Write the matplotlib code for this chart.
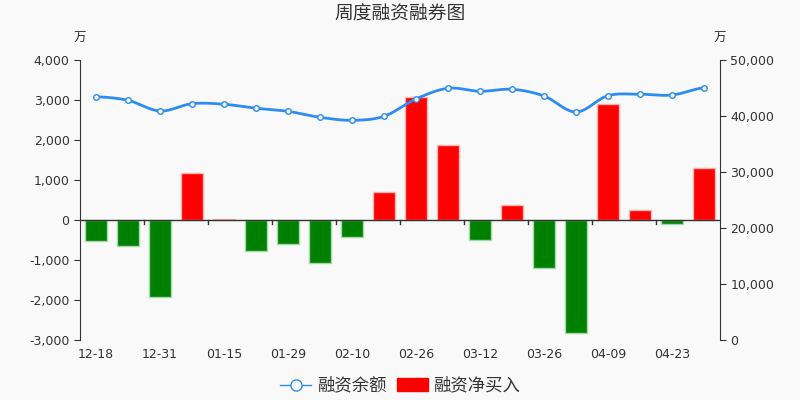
import matplotlib.pyplot as plt
import numpy as np
from matplotlib.ticker import FuncFormatter
from matplotlib.lines import Line2D
from matplotlib.patches import Patch

plt.rcParams['font.family'] = ['Noto Sans CJK SC', 'DejaVu Sans']

dates = ['12-18', '12-24', '12-31', '01-08', '01-15', '01-22', '01-29', '02-05',
         '02-10', '02-19', '02-26', '03-05', '03-12', '03-19', '03-26', '04-02',
         '04-09', '04-16', '04-23', '04-30']
net_buy = [-530, -650, -1917, 1167, 33, -767, -600, -1075, -425, 692,
           3083, 1867, -508, 367, -1208, -2833, 2892, 250, -92, 1292]
balance = [43450, 42800, 40890, 42200, 42100, 41380, 40830, 39770, 39230, 39950,
           43040, 44950, 44410, 44770, 43570, 40710, 43630, 43880, 43750, 45050]

bg = '#f9f9f9'
fig = plt.figure(figsize=(8, 4), dpi=100, facecolor=bg)
ax = fig.add_axes([0.1, 0.15, 0.8, 0.7], facecolor=bg)
ax2 = ax.twinx()

x = np.arange(len(dates))
colors = ['#ff0000' if v >= 0 else '#008000' for v in net_buy]
edges = ['#ffb3b3' if v >= 0 else '#a6d8a6' for v in net_buy]
ax.bar(x, net_buy, width=0.7, color=colors, edgecolor=edges, linewidth=1, zorder=2)
ax.axhline(0, color='#333333', linewidth=1, zorder=3)

# smooth line through points (catmull-rom)
def smooth(xs, ys, n=20):
    px = np.concatenate([[2 * xs[0] - xs[1]], xs, [2 * xs[-1] - xs[-2]]])
    py = np.concatenate([[ys[0]], ys, [ys[-1]]])
    ox, oy = [], []
    t = np.linspace(0, 1, n, endpoint=False)
    for i in range(1, len(px) - 2):
        for arr, out in ((px, ox), (py, oy)):
            p0, p1, p2, p3 = arr[i - 1], arr[i], arr[i + 1], arr[i + 2]
            out.extend(0.5 * (2 * p1 + (-p0 + p2) * t + (2 * p0 - 5 * p1 + 4 * p2 - p3) * t ** 2
                              + (-p0 + 3 * p1 - 3 * p2 + p3) * t ** 3))
    ox.append(xs[-1]); oy.append(ys[-1])
    return np.array(ox), np.array(oy)

sx, sy = smooth(x.astype(float), np.array(balance, dtype=float))
ax2.plot(sx, sy, color='#2d8cf0', linewidth=2, zorder=4)
ax2.plot(x, balance, linestyle='none', marker='o', markersize=4,
         markerfacecolor='white', markeredgecolor='#2d8cf0', markeredgewidth=1, zorder=5)

ax.set_xlim(-0.5, len(dates) - 0.5)
ax.set_ylim(-3000, 4000)
ax2.set_ylim(0, 50000)
ax.set_yticks(np.arange(-3000, 4001, 1000))
ax2.set_yticks(np.arange(0, 50001, 10000))
fmt = FuncFormatter(lambda v, p: f'{int(v):,}')
ax.yaxis.set_major_formatter(fmt)
ax2.yaxis.set_major_formatter(fmt)

ax.set_xticks(x[::2])
ax.set_xticklabels(dates[::2])
ax.tick_params(axis='x', which='major', length=0, labelsize=9, colors='#333333', pad=6)
ax.tick_params(axis='y', labelsize=9, colors='#333333', length=4)
ax2.tick_params(axis='y', labelsize=9, colors='#333333', length=4)
for lab in ax.get_xticklabels() + ax.get_yticklabels() + ax2.get_yticklabels():
    lab.set_fontfamily('DejaVu Sans')

for a in (ax, ax2):
    a.spines['top'].set_visible(False)
    a.spines['bottom'].set_visible(False)
ax.spines['left'].set_color('#333333')
ax.spines['right'].set_visible(False)
ax2.spines['left'].set_visible(False)
ax2.spines['right'].set_color('#333333')
# tick marks between category pairs, hanging from the zero line
for xv in np.arange(1.5, len(dates) - 1, 2):
    ax.plot([xv, xv], [0, -110], color='#333333', linewidth=1, zorder=3)

fig.text(0.5, 0.965, '周度融资融券图', ha='center', va='center', fontsize=13.5, color='#333333')
fig.text(0.1, 0.905, '万', ha='center', va='center', fontsize=9, color='#333333')
fig.text(0.9, 0.905, '万', ha='center', va='center', fontsize=9, color='#333333')

handles = [Line2D([0], [0], color='#2d8cf0', marker='o', markersize=8,
                  markerfacecolor='white', markeredgecolor='#2d8cf0', linewidth=1),
           Patch(facecolor='#ff0000', edgecolor='#ff0000')]
fig.legend(handles, ['融资余额', '融资净买入'], loc='center', bbox_to_anchor=(0.5, 0.036),
           ncol=2, frameon=False, fontsize=12.5, handlelength=1.8, columnspacing=0.6,
           handletextpad=0.3, labelcolor='#333333')

fig.savefig('out.png', dpi=100, facecolor=bg)
